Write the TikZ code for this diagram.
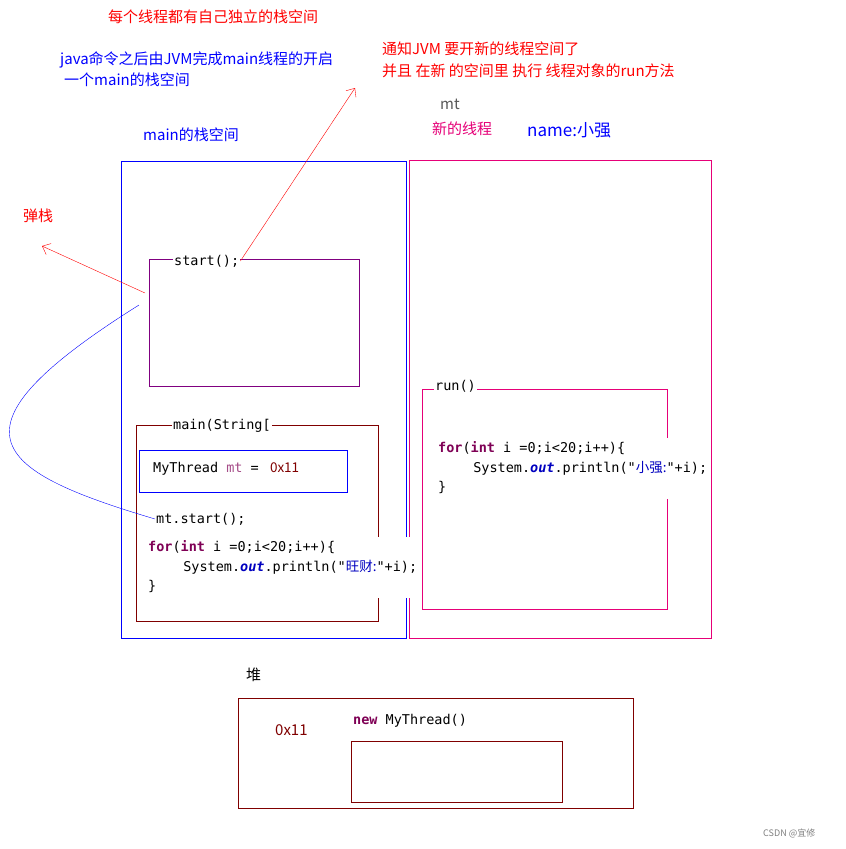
\documentclass[tikz,border=0pt]{standalone}
\usepackage{fontspec}
\setmainfont{Noto Sans CJK SC}
\newfontfamily\cjk{Noto Sans CJK SC}
\setmonofont{DejaVu Sans Mono}
\usetikzlibrary{arrows.meta}
\definecolor{dred}{RGB}{128,0,0}
\definecolor{pink}{RGB}{230,0,120}
\definecolor{purp}{RGB}{128,0,128}
\definecolor{kw}{RGB}{127,0,85}
\definecolor{fld}{RGB}{0,0,192}
\begin{document}
\begin{tikzpicture}[x=1pt,y=-1pt,
  lbl/.style={anchor=west,inner sep=0pt,font=\fontsize{15}{17}\selectfont},
  code/.style={anchor=west,inner sep=1pt,font=\ttfamily\fontsize{13.5}{19.5}\selectfont,fill=white},
  arr/.style={-{Straight Barb[length=7pt,width=12pt]}}]
\useasboundingbox[fill=white] (0,0) rectangle (846,849);
% boxes
\draw[blue] (121,161) rectangle (406,638);
\draw[pink] (409,160) rectangle (711,638);
\draw[purp] (149,259) rectangle (359,386);
\draw[dred] (136,425) rectangle (378,621);
\draw[blue] (139,450) rectangle (347,492);
\draw[pink] (422,389) rectangle (667,609);
\draw[dred] (238,698) rectangle (633,808);
\draw[dred] (351,741) rectangle (562,802);
% texts
\node[lbl,red] (t1) at (108,17) {每个线程都有自己独立的栈空间};
\node[lbl,blue] (t2) at (60,60) {java命令之后由JVM完成main线程的开启};
\node[lbl,blue] (t3) at (64,80) {一个main的栈空间};
\node[lbl,red] (t4) at (382,49) {通知JVM 要开新的线程空间了};
\node[lbl,red] (t5) at (382,71) {并且 在新 的空间里 执行 线程对象的run方法};
\node[lbl,gray!70!black] (mt) at (440,104) {mt};
\node[lbl,pink] (nt) at (432,129) {新的线程};
\node[lbl,blue,font=\fontsize{17}{19}\selectfont] (nm) at (527,130) {name:小强};
\node[lbl,blue] (ms) at (143,135) {main的栈空间};
\node[lbl,red] (tz) at (23,216) {弹栈};
\node[lbl] (heap) at (246,675) {堆};
\node[lbl,dred] (ox) at (275,730) {0x11};
\node[lbl,gray,font=\fontsize{9}{11}\selectfont] (csdn) at (763,833) {CSDN @宜修};
% code
\node[code] (st) at (173,261) {start();};
\node[code] (mn) at (172,426) {main(String[};
\node[code,fill=none] (mtd) at (152,469) {MyThread \textcolor{kw!70}{mt} = \textcolor{dred}{\rmfamily\ 0x11}};
\node[code] (mst) at (155,519) {mt.start();};
\node[code,anchor=north west] (f1) at (147,537) {\begin{tabular}{@{}l@{}}\textcolor{kw}{\bfseries for}(\textcolor{kw}{\bfseries int} i =0;i<20;i++)\{\\
\hspace{2.6em}System.\textcolor{fld}{\bfseries\itshape out}.println("\textcolor{fld}{\cjk 旺财:}"+i);\\ \}\end{tabular}};
\node[code] (rn) at (434,386) {run()};
\node[code,anchor=north west] (f2) at (437,438) {\begin{tabular}{@{}l@{}}\textcolor{kw}{\bfseries for}(\textcolor{kw}{\bfseries int} i =0;i<20;i++)\{\\
\hspace{2.6em}System.\textcolor{fld}{\bfseries\itshape out}.println("\textcolor{fld}{\cjk 小强:}"+i);\\ \}\end{tabular}};
\node[code,fill=none] (nw) at (352,721) {\textcolor{kw}{\bfseries new} MyThread()};
% connectors
\coordinate (a1) at (355,88);
\coordinate (a2) at (42,246);
\coordinate (b0) at (145,293);
\coordinate (c0) at (139,305);
\draw[red,arr] (st.east) -- (a1);
\draw[red,arr] (b0) -- (a2);
\draw[blue] (c0) .. controls (-60,430) and (-10,470) .. (mst.west);
\end{tikzpicture}
\end{document}
